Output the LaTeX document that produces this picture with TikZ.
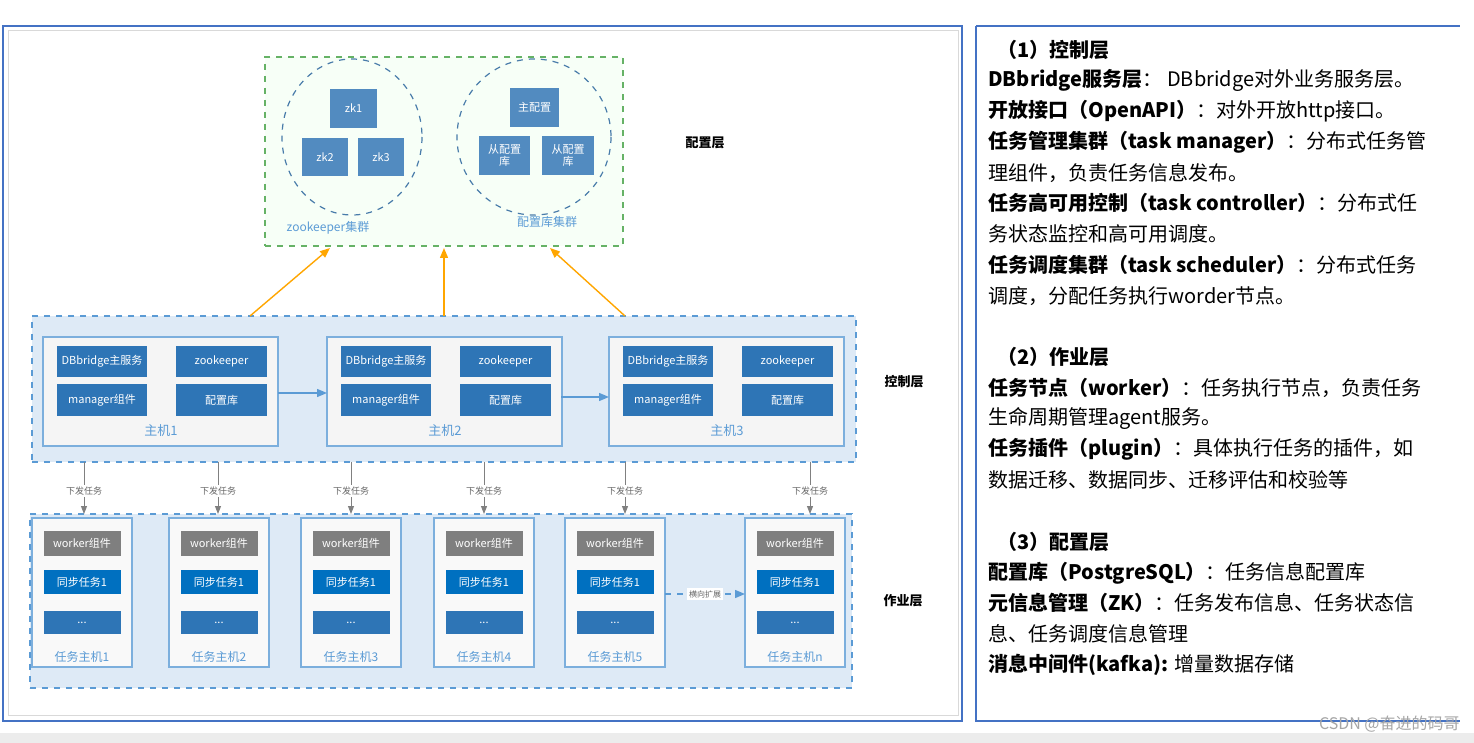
\documentclass[tikz,border=0pt]{standalone}
\usepackage{fontspec}
\setmainfont{Noto Sans CJK SC}
\usetikzlibrary{arrows.meta}
\definecolor{bx}{HTML}{2E75B6}
\definecolor{gr}{HTML}{7F7F7F}
\definecolor{sy}{HTML}{0070C0}
\definecolor{lb}{HTML}{DEEAF6}
\definecolor{frame}{HTML}{4472C4}
\definecolor{lbl}{HTML}{5B9BD5}
\begin{document}
\begin{tikzpicture}[x=0.5pt,y=-0.5pt,
  blk/.style={fill=bx,draw=none,text=white,font=\fontsize{5.5}{6}\selectfont,inner sep=0pt,align=center},
  host/.style={draw=lbl!80,fill=gray!8,line width=0.6pt},
  lay/.style={draw=lbl,dashed,fill=lb,line width=0.6pt},
  yarr/.style={draw=orange!70!yellow,-{Triangle[length=5pt,width=4pt]},line width=0.7pt},
  darr/.style={draw=gray,-{Triangle[length=4pt,width=3pt]},line width=0.5pt},
  harr/.style={draw=lbl,-{Triangle[length=5pt,width=4pt]},line width=0.7pt},
  lbltext/.style={text=lbl,font=\fontsize{6}{7}\selectfont},
  side/.style={font=\bfseries\fontsize{6.5}{7}\selectfont},
  rt/.style={anchor=west,font=\fontsize{10}{12}\selectfont,inner sep=0pt}]
\useasboundingbox (0,0) rectangle (1474,743);
\fill[white] (0,0) rectangle (1474,743);
\fill[gray!15] (0,733) rectangle (1474,743);
% frames
\draw[frame,line width=0.6pt] (3,26) rectangle (962,721);
\draw[gray!30,fill=white] (8,30) rectangle (958,715);
\draw[frame,line width=0.6pt] (976,26) -- (976,721) -- (1460,721);
\draw[frame,line width=0.6pt] (976,26) -- (1460,26);
% config layer
\node[draw=green!50!black!60,dashed,fill=green!3,line width=0.6pt,minimum width=179pt,minimum height=94.5pt,inner sep=0pt] (cfg) at (444,151.5) {};
\draw[lbl!80!black,dashed,line width=0.6pt] (352,137) ellipse (70 and 78);
\draw[lbl!80!black,dashed,line width=0.6pt] (534,137) ellipse (77 and 78);
\node[blk,fill=lbl!90!black,minimum width=23.5pt,minimum height=19.5pt] (zk1) at (353.5,108.5) {zk1};
\node[blk,fill=lbl!90!black,minimum width=23pt,minimum height=19pt] (zk2) at (325,157) {zk2};
\node[blk,fill=lbl!90!black,minimum width=23pt,minimum height=19pt] (zk3) at (381,157) {zk3};
\node[blk,fill=lbl!90!black,minimum width=24.5pt,minimum height=19.5pt] (m) at (534.5,107.5) {主配置};
\node[blk,fill=lbl!90!black,minimum width=25.5pt,minimum height=19.5pt] (s1) at (504.5,155.5) {从配置\\库};
\node[blk,fill=lbl!90!black,minimum width=26pt,minimum height=19.5pt] (s2) at (568,155.5) {从配置\\库};
\node[lbltext] (zkc) at (328,228) {zookeeper集群};
\node[lbltext] (pzc) at (547,222) {配置库集群};
\node[side] (l1) at (705,143) {配置层};
% control layer
\node[lay,minimum width=412pt,minimum height=73pt,inner sep=0pt] (ctl) at (444,389) {};
\foreach \i/\x in {1/43,2/327,3/609}{
  \draw[host] (\x,337) rectangle (\x+235,446);
  \node[blk,minimum width=45pt,minimum height=15.5pt] (db\i) at (\x+59,361.5) {DBbridge主服务};
  \node[blk,minimum width=45.5pt,minimum height=15.5pt] (zo\i) at (\x+178.5,361.5) {zookeeper};
  \node[blk,minimum width=45pt,minimum height=16pt] (mg\i) at (\x+59,400) {manager组件};
  \node[blk,minimum width=45.5pt,minimum height=16pt] (pk\i) at (\x+178.5,400) {配置库};
  \node[lbltext,font=\fontsize{6.5}{7}\selectfont] (h\i) at (\x+118,431) {主机\i};
  \coordinate (hl\i) at (\x,393);
  \coordinate (hr\i) at (\x+235,393);
}
\draw[harr] (278,393) -- (327,393);
\draw[harr] (561,397) -- (609,397);
\node[side] (l2) at (904,382) {控制层};
\draw[yarr] (250,316) -- (330,248);
\draw[yarr] (444,316) -- (444,248);
\draw[yarr] (625,316) -- (550,248);
% work layer
\node[lay,minimum width=411pt,minimum height=87pt,inner sep=0pt] (wk) at (441,601) {};
\foreach \i/\x/\n in {1/32/1,2/169/2,3/301/3,4/434/4,5/565/5,6/745/n}{
  \draw[host,fill=gray!5] (\x,518) rectangle (\x+100,667);
  \node[blk,fill=gr,minimum width=38.5pt,minimum height=12.5pt] (w\i) at (\x+50,543) {worker组件};
  \node[blk,fill=sy,minimum width=38.5pt,minimum height=12pt] (t\i) at (\x+50,582) {同步任务1};
  \node[blk,minimum width=38.5pt,minimum height=11.5pt] (d\i) at (\x+50,622.5) {...};
  \node[lbltext] (n\i) at (\x+50,657) {任务主机\n};
}
\foreach \x in {84,218,351,484,625,810}{
  \draw[darr] (\x,462) -- (\x,514);
  \node[fill=white,inner sep=1pt,font=\fontsize{4.5}{5}\selectfont,text=gray!80!black] at (\x,491) {下发任务};
}
\draw[harr,dashed] (665,594) -- (745,594) node[midway,fill=white,inner sep=1pt,font=\fontsize{4}{5}\selectfont,text=gray!80!black] {横向扩展};
\node[side] (l3) at (903,601) {作业层};
% right text
\node[rt] at (997,50) {\textbf{（1）控制层}};
\node[rt] at (988,80) {\textbf{DBbridge服务层}：\ DBbridge对外业务服务层。};
\node[rt] at (988,111) {\textbf{开放接口（OpenAPI）}：对外开放http接口。};
\node[rt] at (988,142) {\textbf{任务管理集群（task manager）}：分布式任务管};
\node[rt] at (988,173) {理组件，负责任务信息发布。};
\node[rt] at (988,203) {\textbf{任务高可用控制（task controller）}：分布式任};
\node[rt] at (988,234) {务状态监控和高可用调度。};
\node[rt] at (988,265) {\textbf{任务调度集群（task scheduler）}：分布式任务};
\node[rt] at (988,296) {调度，分配任务执行worder节点。};
\node[rt] at (997,357) {\textbf{（2）作业层}};
\node[rt] at (988,388) {\textbf{任务节点（worker）}：任务执行节点，负责任务};
\node[rt] at (988,418) {生命周期管理agent服务。};
\node[rt] at (988,449) {\textbf{任务插件（plugin）}：具体执行任务的插件，如};
\node[rt] at (988,480) {数据迁移、数据同步、迁移评估和校验等};
\node[rt] at (997,542) {\textbf{（3）配置层}};
\node[rt] at (988,573) {\textbf{配置库（PostgreSQL）}：任务信息配置库};
\node[rt] at (988,603) {\textbf{元信息管理（ZK）}：任务发布信息、任务状态信};
\node[rt] at (988,634) {息、任务调度信息管理};
\node[rt] at (988,665) {\textbf{消息中间件(kafka):} 增量数据存储};
\node[anchor=east,text=gray!70,font=\fontsize{8}{9}\selectfont,inner sep=0pt] at (1460,724) {CSDN @奋进的码哥};
\end{tikzpicture}
\end{document}
